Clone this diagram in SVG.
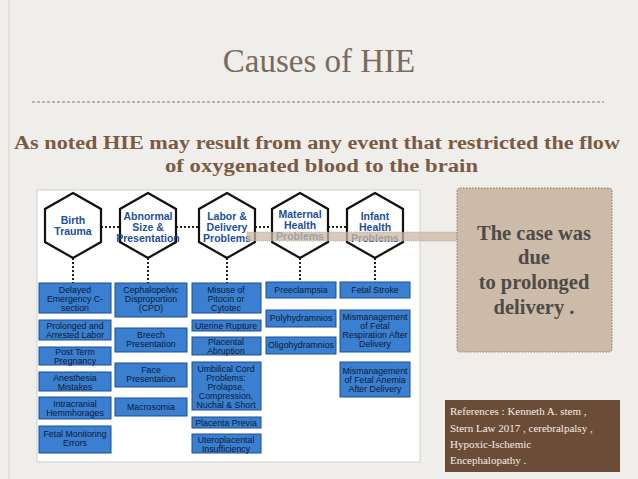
<svg xmlns="http://www.w3.org/2000/svg" width="638" height="479" viewBox="0 0 638 479">
<style>
.hex{fill:#fff;stroke:#111;stroke-width:2.2}
.ht{font-family:"Liberation Sans",sans-serif;font-weight:bold;font-size:10.5px;fill:#1d4f9c;text-anchor:middle}
.b{fill:#3a7fd0;stroke:#1b4f95;stroke-width:1}
.bt{font-family:"Liberation Sans",sans-serif;font-size:8.8px;fill:#0d1a33;text-anchor:middle}
.dot{stroke:#222;stroke-width:2;stroke-dasharray:2,2;fill:none}
</style>
<rect width="638" height="479" fill="#efeeeb"/>
<line x1="9" y1="0" x2="9" y2="479" stroke="#d5d2cc" stroke-width="1"/>
<text x="319" y="72" font-family="Liberation Serif,serif" font-size="33" fill="#7a6a5b" text-anchor="middle">Causes of HIE</text>
<line x1="32" y1="102" x2="604" y2="102" stroke="#8a7c6e" stroke-width="1.2" stroke-dasharray="3,2"/>
<g font-family="Liberation Serif,serif" font-weight="bold" font-size="18.5" fill="#7b5a44">
<text x="14" y="149" textLength="606" lengthAdjust="spacingAndGlyphs">As noted HIE may result from any event that restricted the flow</text>
<text x="165" y="172" textLength="313" lengthAdjust="spacingAndGlyphs">of oxygenated blood to the brain</text>
</g>
<rect x="37" y="190" width="383" height="272" fill="#fff" stroke="#d0d0d0"/>
<g id="connectors">
<line class="dot" x1="101" y1="227" x2="120" y2="227"/>
<line class="dot" x1="176" y1="227" x2="199" y2="227"/>
<line class="dot" x1="255" y1="227" x2="272" y2="227"/>
<line class="dot" x1="328" y1="227" x2="347" y2="227"/>
<line class="dot" x1="73" y1="258" x2="73" y2="283"/>
<line class="dot" x1="148" y1="258" x2="148" y2="283"/>
<line class="dot" x1="227" y1="258" x2="227" y2="283"/>
<line class="dot" x1="300" y1="258" x2="300" y2="282"/>
<line class="dot" x1="375" y1="258" x2="375" y2="282"/>
</g>
<g id="n1"><polygon class="hex" points="73,193 101,209 101,242 73,258 45,242 45,209"/><text class="ht" x="73" y="224">Birth</text><text class="ht" x="73" y="235">Trauma</text></g>
<g id="n2"><polygon class="hex" points="148,193 176,209 176,242 148,258 120,242 120,209"/><text class="ht" x="148" y="220">Abnormal</text><text class="ht" x="148" y="231">Size &amp;</text><text class="ht" x="148" y="242">Presentation</text></g>
<g id="n3"><polygon class="hex" points="227,193 255,209 255,242 227,258 199,242 199,209"/><text class="ht" x="227" y="220">Labor &amp;</text><text class="ht" x="227" y="231">Delivery</text><text class="ht" x="227" y="242">Problems</text></g>
<g id="n4"><polygon class="hex" points="300,193 328,209 328,242 300,258 272,242 272,209"/><text class="ht" x="300" y="218">Maternal</text><text class="ht" x="300" y="229">Health</text><text class="ht" x="300" y="240">Problems</text></g>
<g id="n5"><polygon class="hex" points="375,193 403,209 403,242 375,258 347,242 347,209"/><text class="ht" x="375" y="220">Infant</text><text class="ht" x="375" y="231">Health</text><text class="ht" x="375" y="242">Problems</text></g>
<rect x="247" y="232" width="211" height="9" fill="#c9b8a3" fill-opacity="0.75" stroke="#a89888" stroke-dasharray="1,1" stroke-width="0.6"/>
<g id="col1">
<rect class="b" x="39" y="283" width="72" height="30"/><text class="bt" x="75" y="293">Delayed</text><text class="bt" x="75" y="302">Emergency C-</text><text class="bt" x="75" y="311">section</text>
<rect class="b" x="39" y="320" width="72" height="20"/><text class="bt" x="75" y="329">Prolonged and</text><text class="bt" x="75" y="338">Arrested Labor</text>
<rect class="b" x="39" y="347" width="72" height="18"/><text class="bt" x="75" y="355">Post Term</text><text class="bt" x="75" y="364">Pregnancy</text>
<rect class="b" x="39" y="372" width="72" height="19"/><text class="bt" x="75" y="381">Anesthesia</text><text class="bt" x="75" y="390">Mistakes</text>
<rect class="b" x="39" y="397" width="72" height="22"/><text class="bt" x="75" y="407">Intracranial</text><text class="bt" x="75" y="416">Hemmhorages</text>
<rect class="b" x="39" y="426" width="72" height="27"/><text class="bt" x="75" y="437">Fetal Monitoring</text><text class="bt" x="75" y="446">Errors</text>
</g>
<g id="col2">
<rect class="b" x="115" y="283" width="72" height="34"/><text class="bt" x="151" y="293">Cephalopelvic</text><text class="bt" x="151" y="302">Disproportion</text><text class="bt" x="151" y="311">(CPD)</text>
<rect class="b" x="115" y="328" width="72" height="24"/><text class="bt" x="151" y="338">Breech</text><text class="bt" x="151" y="347">Presentation</text>
<rect class="b" x="115" y="363" width="72" height="24"/><text class="bt" x="151" y="373">Face</text><text class="bt" x="151" y="382">Presentation</text>
<rect class="b" x="115" y="398" width="72" height="18"/><text class="bt" x="151" y="410">Macrosomia</text>
</g>
<g id="col3">
<rect class="b" x="192" y="283" width="69" height="30"/><text class="bt" x="226" y="293">Misuse of</text><text class="bt" x="226" y="302">Pitocin or</text><text class="bt" x="226" y="311">Cytotec</text>
<rect class="b" x="192" y="320" width="69" height="11"/><text class="bt" x="226" y="329">Uterine Rupture</text>
<rect class="b" x="192" y="337" width="69" height="18"/><text class="bt" x="226" y="345">Placental</text><text class="bt" x="226" y="354">Abruption</text>
<rect class="b" x="192" y="362" width="69" height="48"/><text class="bt" x="226" y="372">Umbilical Cord</text><text class="bt" x="226" y="381">Problems:</text><text class="bt" x="226" y="390">Prolapse,</text><text class="bt" x="226" y="399">Compression,</text><text class="bt" x="226" y="408">Nuchal &amp; Short</text>
<rect class="b" x="192" y="417" width="69" height="11"/><text class="bt" x="226" y="426">Placenta Previa</text>
<rect class="b" x="192" y="434" width="69" height="19"/><text class="bt" x="226" y="443">Uteroplacental</text><text class="bt" x="226" y="452">Insufficiency</text>
</g>
<g id="col4">
<rect class="b" x="266" y="282" width="70" height="16"/><text class="bt" x="301" y="293">Preeclampsia</text>
<rect class="b" x="266" y="310" width="70" height="17"/><text class="bt" x="301" y="321">Polyhydramnios</text>
<rect class="b" x="266" y="337" width="70" height="17"/><text class="bt" x="301" y="348">Oligohydramnios</text>
</g>
<g id="col5">
<rect class="b" x="340" y="282" width="70" height="16"/><text class="bt" x="375" y="293">Fetal Stroke</text>
<rect class="b" x="340" y="310" width="70" height="42"/><text class="bt" x="375" y="320">Mismanagement</text><text class="bt" x="375" y="329">of Fetal</text><text class="bt" x="375" y="338">Respiration After</text><text class="bt" x="375" y="347">Delivery</text>
<rect class="b" x="340" y="362" width="70" height="35"/><text class="bt" x="375" y="374">Mismanagement</text><text class="bt" x="375" y="383">of Fetal Anemia</text><text class="bt" x="375" y="392">After Delivery</text>
</g>
<g id="callout">
<rect x="457" y="188" width="155" height="164" rx="3" fill="#cbbba8" stroke="#6e6259" stroke-width="0.8" stroke-dasharray="1.5,1.5"/>
<g font-family="Liberation Serif,serif" font-weight="bold" font-size="20.5" fill="#4e4a48" text-anchor="middle">
<text x="534" y="240">The case was</text><text x="534" y="264">due</text><text x="534" y="289">to prolonged</text><text x="534" y="314">delivery .</text>
</g></g>
<g id="refs">
<rect x="445" y="400" width="175" height="72" fill="#6b4d37"/>
<g font-family="Liberation Serif,serif" font-size="11" fill="#f3ede5">
<text x="450" y="415">References : Kenneth A. stem ,</text><text x="450" y="432">Stern Law 2017 , cerebralpalsy ,</text><text x="450" y="448">Hypoxic-Ischemic</text><text x="450" y="464">Encephalopathy .</text>
</g></g>
</svg>
